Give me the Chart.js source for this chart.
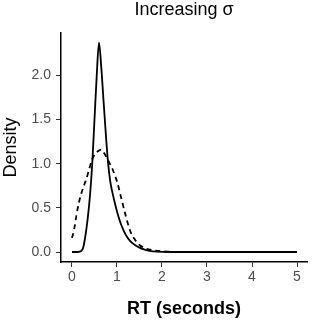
<!DOCTYPE html>
<html>
<head>
<meta charset="utf-8">
<script src="https://cdn.jsdelivr.net/npm/chart.js@4/dist/chart.umd.min.js"></script>
<style>
  html, body { margin: 0; padding: 0; background: #fff; }
  #wrap { width: 320px; height: 320px; }
</style>
</head>
<body>
<div id="wrap"><canvas id="chart" width="320" height="320"></canvas></div>
<script>
(function () {

    "use strict";

    // RT grid (seconds) and the two density curves
    var rt = [0, 0.05, 0.1, 0.15, 0.2, 0.25, 0.3, 0.35, 0.4, 0.45, 0.5, 0.55, 0.6, 0.65, 0.7, 0.75, 0.8, 0.85, 0.9, 0.95, 1.0, 1.1, 1.2, 1.3, 1.4, 1.5, 1.6, 1.7, 1.8, 2.0, 2.5, 3.0, 3.5, 4.0, 4.5, 5.0];
    var densitySolid = [0, 0, 0, 0.002, 0.01, 0.05, 0.19, 0.38, 0.64, 1.0, 1.5, 2.0, 2.37, 2.1, 1.72, 1.35, 1.02, 0.8, 0.67, 0.56, 0.46, 0.3, 0.19, 0.12, 0.08, 0.05, 0.03, 0.016, 0.008, 0.002, 0, 0, 0, 0, 0, 0];
    var densityDashed = [0.16, 0.26, 0.42, 0.55, 0.65, 0.73, 0.8, 0.88, 0.97, 1.05, 1.1, 1.13, 1.15, 1.16, 1.13, 1.09, 1.04, 0.99, 0.94, 0.87, 0.8, 0.6, 0.4, 0.23, 0.14, 0.08, 0.05, 0.03, 0.02, 0.008, 0, 0, 0, 0, 0, 0];
    var xTicks = [0, 1, 2, 3, 4, 5];
    var yTicks = [0, 0.5, 1.0, 1.5, 2.0];

    var titleText = 'Increasing \u03c3';

    function toPoints(xs, ys) {
        var pts = [];
        for (var i = 0; i < xs.length; i++) {
            pts.push({ x: xs[i], y: ys[i] });
        }
        return pts;
    }

    function fixedTicks(values) {
        return function (scale) {
            scale.ticks = values.map(function (v) { return { value: v }; });
        };
    }

    // title centred over the plot panel, like ggplot does
    var panelTitle = {
        id: 'panelTitle',
        afterDraw: function (chart) {
            var ctx = chart.ctx;
            var area = chart.chartArea;
            ctx.save();
            ctx.font = '18px "Liberation Sans", Arial, sans-serif';
            ctx.fillStyle = '#000';
            ctx.textAlign = 'center';
            ctx.textBaseline = 'alphabetic';
            ctx.fillText(titleText, (area.left + area.right) / 2, 15);
            ctx.restore();
        }
    };

    var ctx = document.getElementById('chart').getContext('2d');

    new Chart(ctx, {
        type: 'line',
        data: {
            datasets: [
                {
                    label: 'solid',
                    data: toPoints(rt, densitySolid),
                    borderColor: '#000',
                    borderWidth: 1.8,
                    pointRadius: 0,
                    fill: false,
                    cubicInterpolationMode: 'monotone'
                },
                {
                    label: 'dashed',
                    data: toPoints(rt, densityDashed),
                    borderColor: '#000',
                    borderWidth: 1.8,
                    borderDash: [5, 4],
                    pointRadius: 0,
                    fill: false,
                    cubicInterpolationMode: 'monotone'
                }
            ]
        },
        options: {
            responsive: false,
            animation: false,
            layout: { padding: { top: 33, right: 13, left: 0, bottom: 0 } },
            plugins: {
                legend: { display: false },
                tooltip: { enabled: false },
                title: { display: false }
            },
            scales: {
                x: {
                    type: 'linear',
                    min: -0.244,
                    max: 5.222,
                    afterBuildTicks: fixedTicks(xTicks),
                    afterFit: function (scale) { scale.height = 58; },
                    border: { display: true, color: '#000', width: 1.5 },
                    grid: { display: true, drawOnChartArea: false, drawTicks: true, tickLength: 5, color: '#333' },
                    ticks: {
                        color: '#4d4d4d',
                        padding: 2,
                        maxRotation: 0,
                        font: { family: '"Liberation Sans", Arial, sans-serif', size: 14 },
                        callback: function (v) { return String(v); }
                    },
                    title: {
                        display: true,
                        text: 'RT (seconds)',
                        color: '#000',
                        padding: { top: 0, bottom: 0 },
                        font: { family: '"Liberation Sans", Arial, sans-serif', size: 18, weight: 'bold' }
                    }
                },
                y: {
                    type: 'linear',
                    min: -0.113,
                    max: 2.48,
                    afterBuildTicks: fixedTicks(yTicks),
                    afterFit: function (scale) { scale.width = 61; },
                    border: { display: true, color: '#000', width: 1.5 },
                    grid: { display: true, drawOnChartArea: false, drawTicks: true, tickLength: 5, color: '#333' },
                    ticks: {
                        color: '#4d4d4d',
                        padding: 5,
                        font: { family: '"Liberation Sans", Arial, sans-serif', size: 14 },
                        callback: function (v) { return v.toFixed(1); }
                    },
                    title: {
                        display: true,
                        text: 'Density',
                        color: '#000',
                        padding: { top: 0, bottom: 0 },
                        font: { family: '"Liberation Sans", Arial, sans-serif', size: 18 }
                    }
                }
            }
        },
        plugins: [panelTitle]
    });

})();
</script>
</body>
</html>
